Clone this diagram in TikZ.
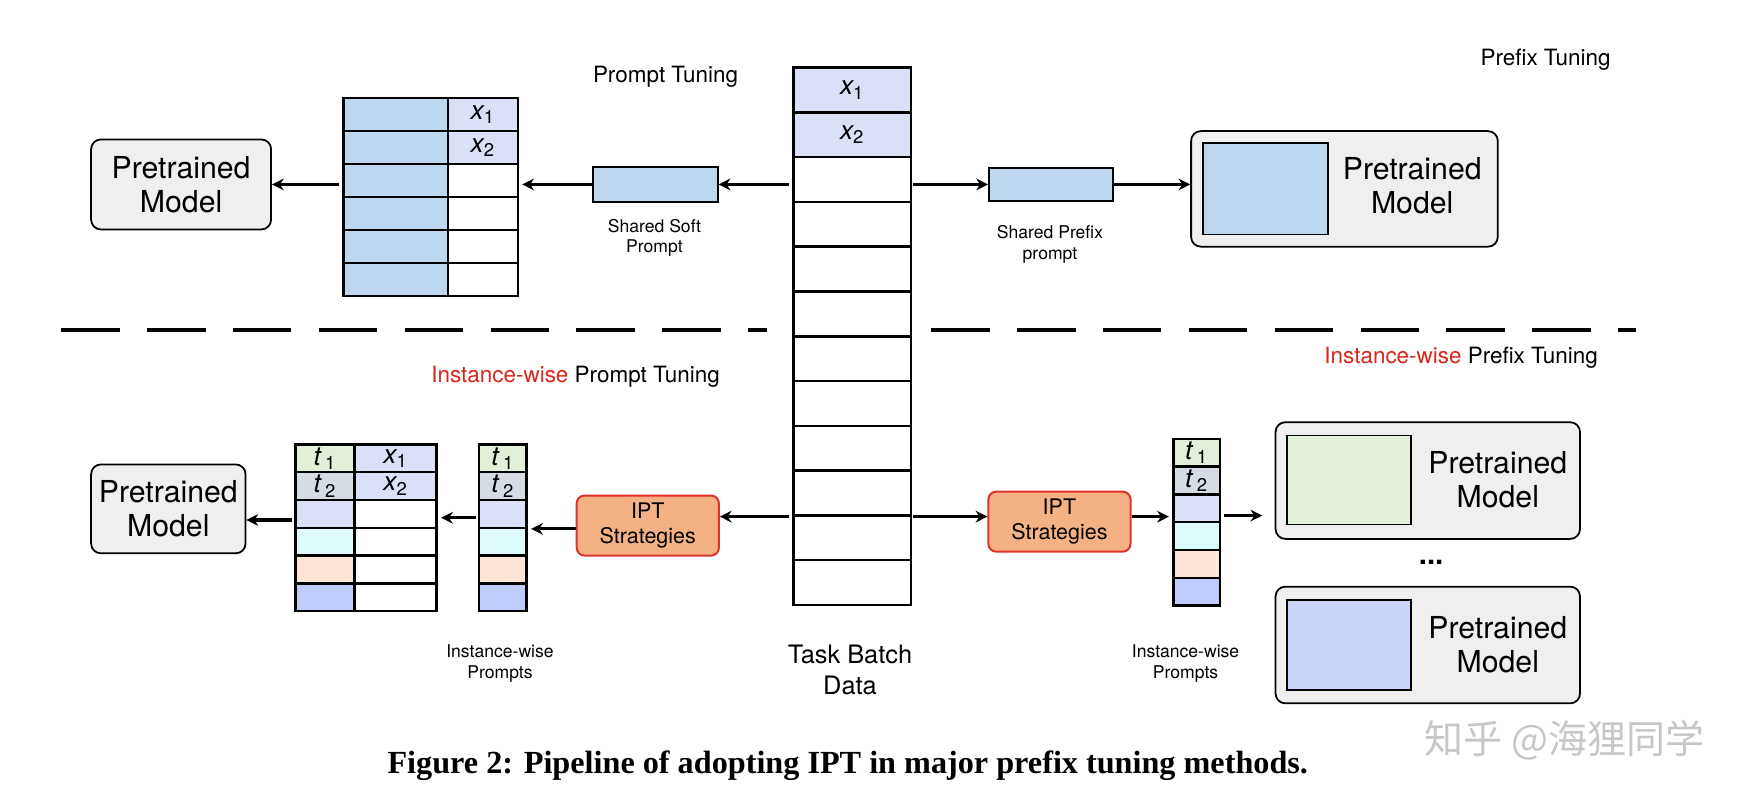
\documentclass[tikz,border=0pt]{standalone}
\usepackage{fontspec}
\setmainfont{Liberation Serif}
\newfontfamily\helv{TeX Gyre Heros}
\newfontfamily\cjk{Noto Sans CJK SC}
\usetikzlibrary{arrows.meta,positioning}
\definecolor{pblue}{HTML}{BDD7EE}
\definecolor{plav}{HTML}{DAE0F5}
\definecolor{pgreen}{HTML}{E2EFD9}
\definecolor{pgrey}{HTML}{D5DCE4}
\definecolor{pcyan}{HTML}{DDFBFB}
\definecolor{ppeach}{HTML}{FCE4D6}
\definecolor{pdeep}{HTML}{BECBFB}
\definecolor{pmgray}{HTML}{EFEFEF}
\definecolor{iptfill}{HTML}{F4B183}
\definecolor{iptred}{HTML}{E0302A}
\definecolor{twred}{HTML}{D9261C}
\newcommand{\vx}[1]{{\helv\itshape x}\textsubscript{\helv #1}}
\newcommand{\vt}[1]{{\helv\itshape t}\,\textsubscript{\helv #1}}
\begin{document}
\begin{tikzpicture}[x=0.02cm,y=-0.02cm,
    cell/.style={draw, line width=1.3pt, inner sep=0pt, font=\fontsize{13.5}{13.5}\selectfont},
    model/.style={draw, rounded corners=5pt, fill=pmgray, line width=0.9pt},
    bigtxt/.style={font=\helv\fontsize{15.5}{17.5}\selectfont, align=center},
    small/.style={font=\helv\fontsize{9}{10.5}\selectfont, align=center},
    title/.style={font=\helv\fontsize{11.5}{13}\selectfont},
    ipt/.style={draw=iptred, fill=iptfill, rounded corners=4pt, line width=1pt,
        minimum width=128*0.02cm, minimum height=54*0.02cm, font=\helv\fontsize{11}{13}\selectfont, align=center},
    arr/.style={-{Stealth[length=6pt,width=6pt]}, line width=1.6pt}]
    \useasboundingbox (0,0) rectangle (1566,729);

    % shared task batch
    \foreach \i in {0,...,11} {
        \node[cell, fill=white, minimum width=106*0.02cm, minimum height=40.3*0.02cm] (b\i) at (767,81+40.3*\i) {};
    }
    \node[cell, fill=plav, minimum width=106*0.02cm, minimum height=40.3*0.02cm] at (b0) {\vx1};
    \node[cell, fill=plav, minimum width=106*0.02cm, minimum height=40.3*0.02cm] at (b1) {\vx2};
    \node[font=\helv\fontsize{13}{16}\selectfont, align=center] (tbd) at (765,603) {Task Batch\\Data};

    % prompt tuning
    \node[title] at (599,69) {Prompt Tuning};
    \node[model, minimum width=162*0.02cm, minimum height=81*0.02cm] (pm1) at (163,166) {};
    \node[bigtxt] at (pm1) {Pretrained\\Model};
    \foreach \i in {0,...,5} {
        \node[cell, fill=pblue, minimum width=94*0.02cm, minimum height=29.7*0.02cm] (tl\i) at (356,103+29.7*\i) {};
        \node[cell, fill=white, minimum width=63*0.02cm, minimum height=29.7*0.02cm] (tr\i) at (434.5,103+29.7*\i) {};
    }
    \node[cell, fill=plav, minimum width=63*0.02cm, minimum height=29.7*0.02cm] at (tr0) {\vx1};
    \node[cell, fill=plav, minimum width=63*0.02cm, minimum height=29.7*0.02cm] at (tr1) {\vx2};
    \node[cell, fill=pblue, line width=0.9pt, minimum width=112*0.02cm, minimum height=32*0.02cm] (soft) at (590,166) {};
    \node[small] at (589,214) {Shared Soft\\Prompt};
    \draw[arr] (710,166) -- (soft.east);
    \draw[arr] (soft.west) -- (470,166);
    \draw[arr] (305,166) -- (pm1.east);

    % prefix tuning
    \node[title] at (1391,54) {Prefix Tuning};
    \node[cell, fill=pblue, line width=0.9pt, minimum width=112*0.02cm, minimum height=30*0.02cm] (pre) at (946,166) {};
    \node[small] at (945,220) {Shared Prefix\\prompt};
    \node[model, minimum width=276*0.02cm, minimum height=104*0.02cm] (pm2) at (1210,170) {};
    \node[draw, fill=pblue, line width=0.9pt, minimum width=112*0.02cm, minimum height=82*0.02cm] at (1139,170) {};
    \node[bigtxt] at (1271,167) {Pretrained\\Model};
    \draw[arr] (822,166) -- (pre.west);
    \draw[arr] (pre.east) -- (pm2.west |- pre.east);

    % separator
    \draw[line width=2pt, dash pattern=on 30 off 14] (55,297) -- (690,297);
    \draw[line width=2pt, dash pattern=on 30 off 14] (838,297) -- (1472,297);

    % instance-wise prompt tuning
    \node[title] at (518,339) {\textcolor{twred}{Instance-wise} Prompt Tuning};
    \node[model, minimum width=139*0.02cm, minimum height=80*0.02cm] (pm3) at (151.5,458) {};
    \node[bigtxt] at (pm3) {Pretrained\\Model};
    \foreach \c [count=\i from 0] in {pgreen,pgrey,plav,pcyan,ppeach,pdeep} {
        \node[cell, fill=\c, minimum width=53*0.02cm, minimum height=25*0.02cm] (il\i) at (292.5,412.5+25*\i) {};
        \node[cell, fill=white, minimum width=74*0.02cm, minimum height=25*0.02cm] (ir\i) at (356,412.5+25*\i) {};
        \node[cell, fill=\c, minimum width=43*0.02cm, minimum height=25*0.02cm] (ip\i) at (452.5,412.5+25*\i) {};
    }
    \node[font=\fontsize{13.5}{13.5}\selectfont] at (il0) {\vt1};
    \node[font=\fontsize{13.5}{13.5}\selectfont] at (il1) {\vt2};
    \node[font=\fontsize{13.5}{13.5}\selectfont] at (ip0) {\vt1};
    \node[font=\fontsize{13.5}{13.5}\selectfont] at (ip1) {\vt2};
    \node[cell, fill=plav, minimum width=74*0.02cm, minimum height=25*0.02cm] at (ir0) {\vx1};
    \node[cell, fill=plav, minimum width=74*0.02cm, minimum height=25*0.02cm] at (ir1) {\vx2};
    \node[ipt] (ipt1) at (583,473) {IPT\\Strategies};
    \node[small] at (450,597) {Instance-wise\\Prompts};
    \draw[arr] (710,465) -- (ipt1.east |- 0,465);
    \draw[arr] (ipt1.west |- 0,476) -- (478,476);
    \draw[arr] (428,466) -- (397,466);
    \draw[arr] (263,468) -- (pm3.east |- 0,468);

    % instance-wise prefix tuning
    \node[title] at (1315,322) {\textcolor{twred}{Instance-wise} Prefix Tuning};
    \node[ipt] (ipt2) at (953.5,469.5) {IPT\\Strategies};
    \foreach \c [count=\i from 0] in {pgreen,pgrey,plav,pcyan,ppeach,pdeep} {
        \node[cell, fill=\c, minimum width=42*0.02cm, minimum height=25*0.02cm] (iq\i) at (1077,407.5+25*\i) {};
    }
    \node[font=\fontsize{13.5}{13.5}\selectfont] at (iq0) {\vt1};
    \node[font=\fontsize{13.5}{13.5}\selectfont] at (iq1) {\vt2};
    \node[small] at (1067,597) {Instance-wise\\Prompts};
    \node[model, minimum width=274*0.02cm, minimum height=105*0.02cm] (pm4) at (1285,432.5) {};
    \node[draw, fill=pgreen, line width=0.9pt, minimum width=112*0.02cm, minimum height=80*0.02cm] at (1214,432) {};
    \node[bigtxt] at (1348,432) {Pretrained\\Model};
    \node[font=\helv\bfseries\fontsize{15}{15}\selectfont] at (1288,506) {...};
    \node[model, minimum width=274*0.02cm, minimum height=105*0.02cm] (pm5) at (1285,580.5) {};
    \node[draw, fill=pdeep!80, line width=0.9pt, minimum width=112*0.02cm, minimum height=81*0.02cm] at (1214,580.5) {};
    \node[bigtxt] at (1348,580) {Pretrained\\Model};
    \draw[arr] (822,465) -- (ipt2.west |- 0,465);
    \draw[arr] (ipt2.east |- 0,465) -- (1052,465);
    \draw[arr] (1102,464) -- (1136,464);

    % caption and watermark
    \node[font=\bfseries\fontsize{16.5}{18}\selectfont] at (763,689) {Figure 2: Pipeline of adopting IPT in major prefix tuning methods.};
    \node[font=\cjk\fontsize{20}{20}\selectfont, text=black!22] at (1408,666) {知乎 @海狸同学};
\end{tikzpicture}
\end{document}
